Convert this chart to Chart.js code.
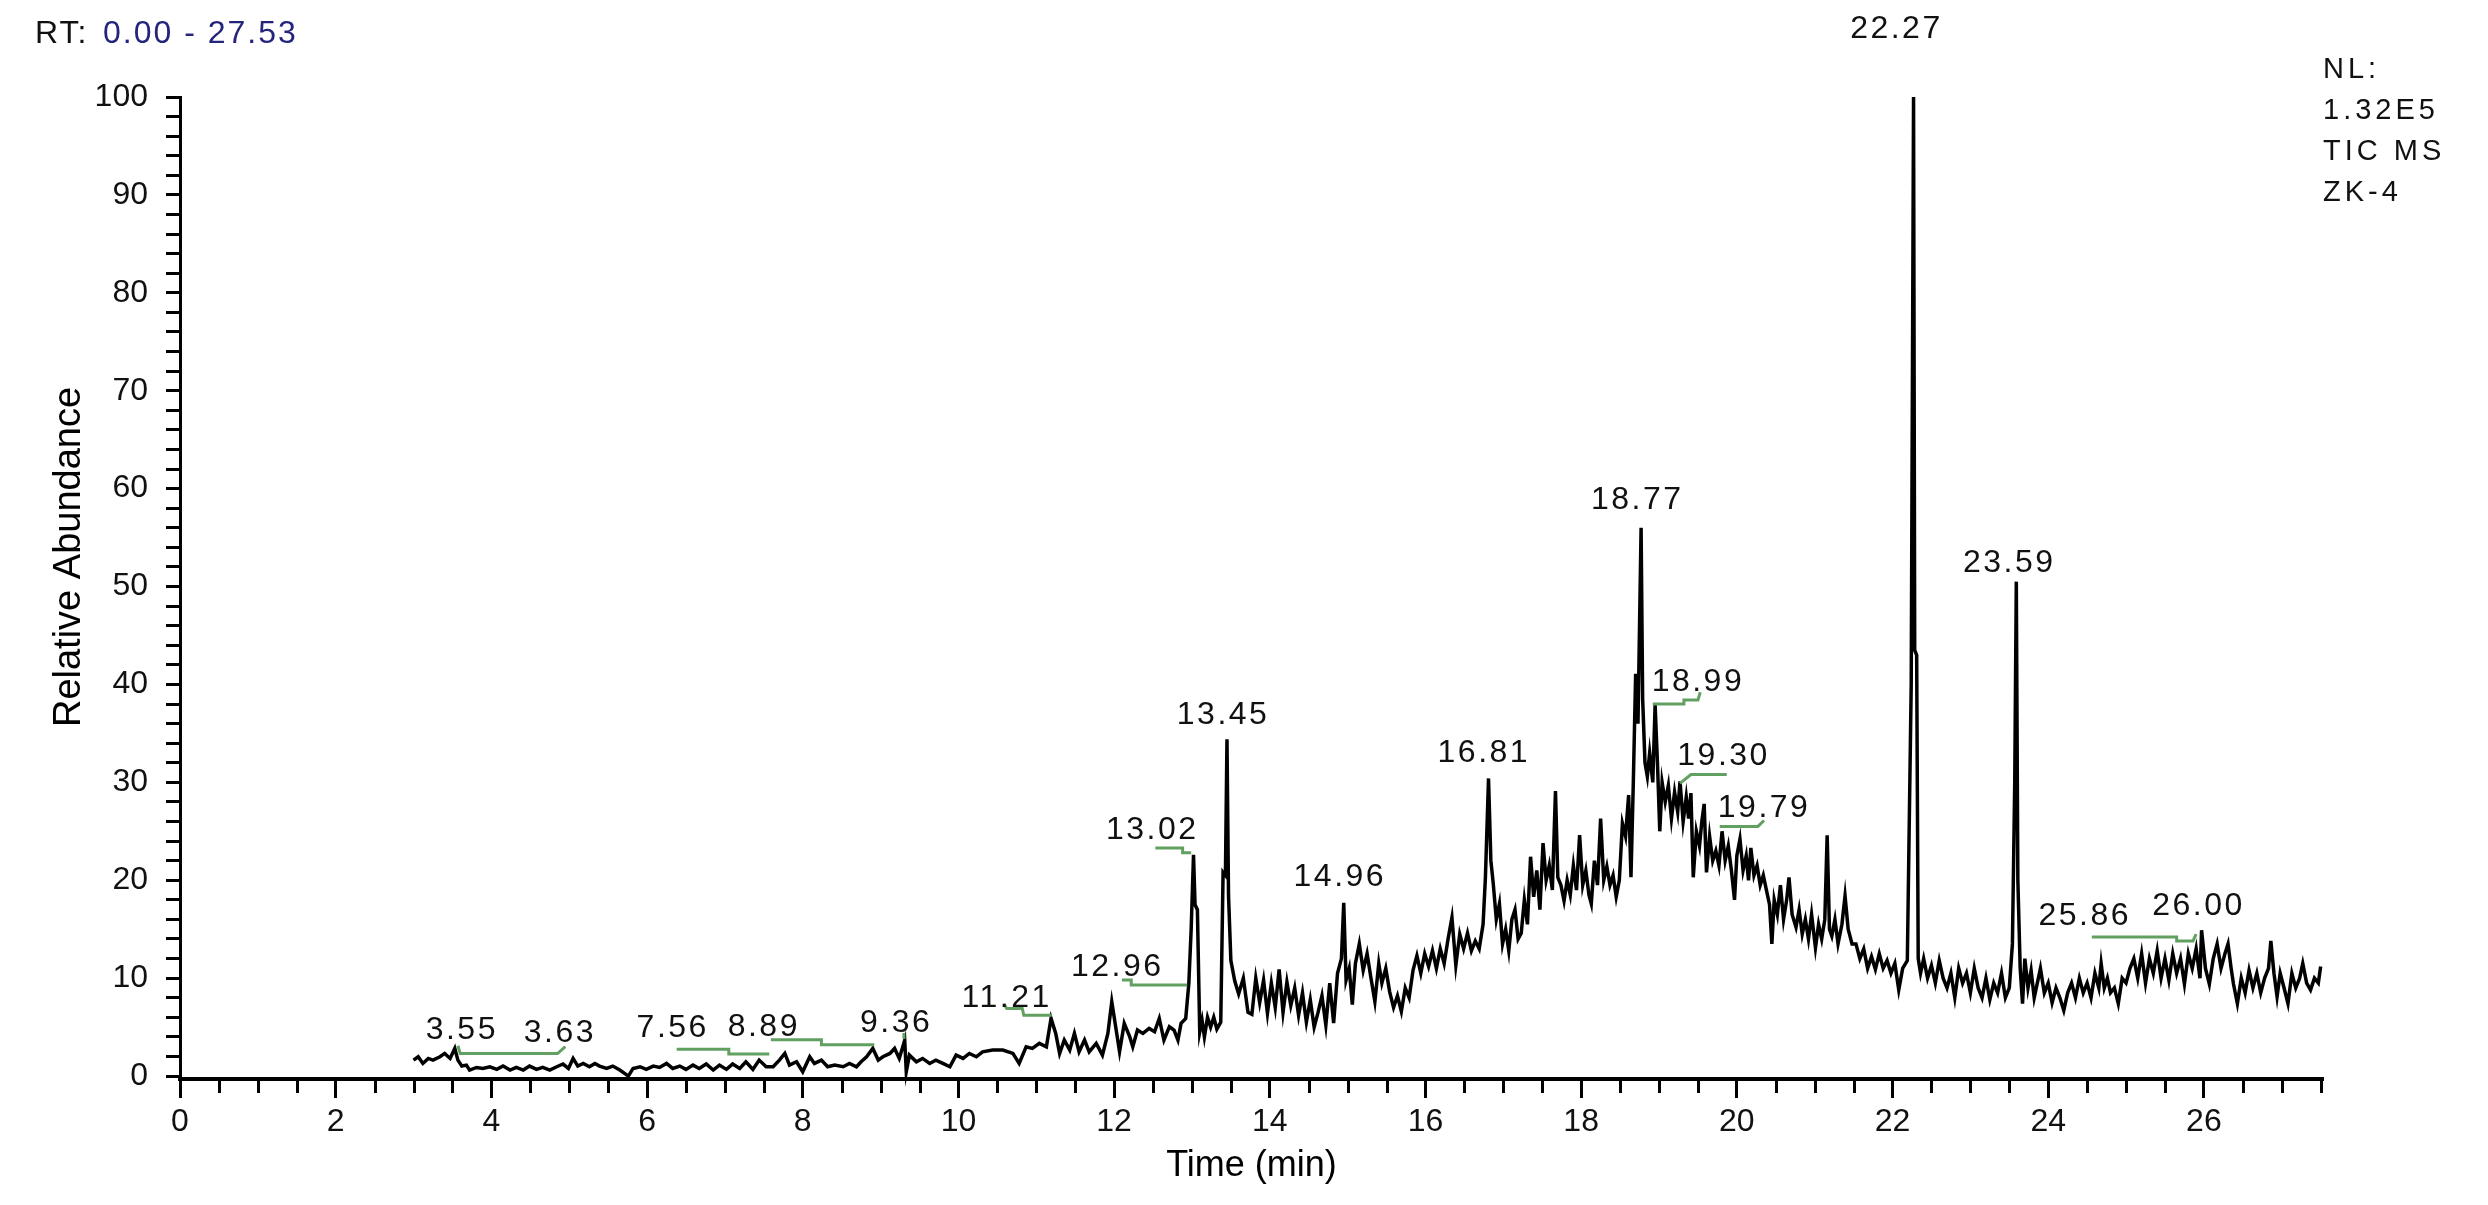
<!DOCTYPE html>
<html>
<head>
<meta charset="utf-8">
<title>TIC MS ZK-4</title>
<script src="https://cdn.jsdelivr.net/npm/chart.js@4.4.1/dist/chart.umd.min.js"></script>
<style>
  html, body { margin: 0; padding: 0; background: #fff; }
  canvas { display: block; }
</style>
</head>
<body>
<canvas id="tic" width="2488" height="1205"></canvas>
<script>
// retention time (min) and relative abundance (%)
const times = [
  3.00, 3.06, 3.12, 3.19, 3.25, 3.34, 3.40, 3.47, 3.53, 3.57, 3.62, 3.68, 3.72, 3.81, 3.89, 3.98,
  4.07, 4.15, 4.24, 4.32, 4.41, 4.49, 4.58, 4.66, 4.75, 4.84, 4.92, 4.99, 5.05, 5.11, 5.18, 5.26,
  5.33, 5.39, 5.48, 5.56, 5.65, 5.76, 5.82, 5.91, 5.99, 6.08, 6.16, 6.25, 6.33, 6.42, 6.50, 6.59,
  6.67, 6.76, 6.85, 6.93, 7.02, 7.10, 7.19, 7.27, 7.36, 7.44, 7.53, 7.62, 7.70, 7.77, 7.83, 7.92,
  8.00, 8.09, 8.15, 8.24, 8.32, 8.41, 8.52, 8.60, 8.69, 8.75, 8.82, 8.90, 8.97, 9.03, 9.12, 9.18,
  9.24, 9.31, 9.33, 9.37, 9.46, 9.54, 9.63, 9.71, 9.80, 9.89, 9.97, 10.06, 10.14, 10.23, 10.31, 10.44,
  10.57, 10.70, 10.78, 10.87, 10.95, 11.04, 11.13, 11.19, 11.25, 11.30, 11.36, 11.43, 11.49, 11.55, 11.62, 11.68,
  11.77, 11.85, 11.92, 11.97, 12.02, 12.07, 12.13, 12.20, 12.24, 12.30, 12.37, 12.45, 12.52, 12.58, 12.64, 12.71,
  12.77, 12.82, 12.86, 12.92, 12.96, 12.99, 13.02, 13.04, 13.07, 13.10, 13.13, 13.16, 13.20, 13.24, 13.28, 13.32,
  13.37, 13.40, 13.43, 13.45, 13.47, 13.50, 13.55, 13.60, 13.66, 13.72, 13.77, 13.82, 13.87, 13.92, 13.97, 14.02,
  14.07, 14.12, 14.17, 14.22, 14.27, 14.32, 14.37, 14.42, 14.47, 14.52, 14.57, 14.62, 14.67, 14.72, 14.77, 14.82,
  14.87, 14.92, 14.95, 14.98, 15.02, 15.06, 15.10, 15.15, 15.20, 15.25, 15.30, 15.35, 15.40, 15.44, 15.49, 15.54,
  15.59, 15.64, 15.69, 15.74, 15.79, 15.84, 15.89, 15.94, 15.99, 16.04, 16.09, 16.14, 16.19, 16.24, 16.29, 16.34,
  16.39, 16.44, 16.49, 16.54, 16.59, 16.64, 16.69, 16.74, 16.77, 16.81, 16.84, 16.87, 16.91, 16.95, 16.99, 17.03,
  17.07, 17.11, 17.15, 17.19, 17.23, 17.27, 17.31, 17.35, 17.39, 17.43, 17.47, 17.51, 17.55, 17.59, 17.63, 17.67,
  17.70, 17.74, 17.78, 17.82, 17.86, 17.90, 17.94, 17.98, 18.02, 18.06, 18.10, 18.13, 18.17, 18.21, 18.25, 18.29,
  18.33, 18.37, 18.41, 18.45, 18.49, 18.53, 18.57, 18.61, 18.64, 18.67, 18.70, 18.73, 18.77, 18.79, 18.82, 18.85,
  18.88, 18.92, 18.95, 18.98, 19.01, 19.04, 19.08, 19.12, 19.16, 19.20, 19.24, 19.27, 19.31, 19.35, 19.38, 19.41,
  19.44, 19.48, 19.52, 19.55, 19.58, 19.61, 19.65, 19.69, 19.73, 19.77, 19.81, 19.85, 19.89, 19.93, 19.97, 20.00,
  20.04, 20.08, 20.12, 20.15, 20.18, 20.22, 20.26, 20.30, 20.34, 20.38, 20.42, 20.45, 20.48, 20.52, 20.56, 20.60,
  20.64, 20.67, 20.71, 20.76, 20.80, 20.84, 20.88, 20.92, 20.96, 21.01, 21.05, 21.09, 21.13, 21.16, 21.19, 21.22,
  21.26, 21.30, 21.35, 21.39, 21.43, 21.48, 21.53, 21.58, 21.63, 21.68, 21.73, 21.78, 21.83, 21.88, 21.93, 21.98,
  22.03, 22.08, 22.13, 22.19, 22.24, 22.27, 22.285, 22.31, 22.33, 22.36, 22.40, 22.45, 22.50, 22.55, 22.60, 22.65,
  22.70, 22.75, 22.80, 22.85, 22.90, 22.95, 23.00, 23.05, 23.10, 23.15, 23.20, 23.25, 23.30, 23.35, 23.40, 23.45,
  23.50, 23.54, 23.57, 23.59, 23.61, 23.64, 23.67, 23.70, 23.74, 23.78, 23.82, 23.86, 23.90, 23.95, 24.00, 24.05,
  24.10, 24.15, 24.20, 24.25, 24.30, 24.35, 24.40, 24.45, 24.50, 24.55, 24.60, 24.65, 24.68, 24.72, 24.76, 24.80,
  24.85, 24.90, 24.95, 25.00, 25.05, 25.10, 25.15, 25.20, 25.25, 25.30, 25.35, 25.40, 25.45, 25.50, 25.55, 25.60,
  25.65, 25.70, 25.75, 25.80, 25.85, 25.90, 25.95, 25.97, 26.02, 26.07, 26.12, 26.17, 26.22, 26.27, 26.31, 26.35,
  26.38, 26.43, 26.48, 26.53, 26.58, 26.63, 26.68, 26.73, 26.78, 26.83, 26.86, 26.90, 26.94, 26.98, 27.03, 27.08,
  27.13, 27.18, 27.23, 27.27, 27.32, 27.37, 27.42, 27.47, 27.50
];
const abundance = [
  1.63, 1.97, 1.29, 1.80, 1.63, 1.97, 2.31, 1.80, 2.82, 1.63, 1.02, 1.12, 0.61, 0.88, 0.78, 0.95,
  0.68, 1.02, 0.61, 0.88, 0.61, 1.02, 0.68, 0.88, 0.61, 0.95, 1.23, 0.78, 1.80, 1.02, 1.29, 0.95,
  1.29, 1.02, 0.78, 1.02, 0.61, 0.00, 0.78, 0.95, 0.68, 1.02, 0.88, 1.29, 0.78, 1.02, 0.68, 1.12,
  0.78, 1.23, 0.61, 1.12, 0.68, 1.23, 0.78, 1.46, 0.68, 1.63, 0.95, 0.95, 1.63, 2.31, 1.12, 1.46,
  0.44, 1.97, 1.29, 1.63, 0.95, 1.12, 0.95, 1.29, 0.95, 1.46, 1.97, 2.82, 1.63, 1.97, 2.31, 2.82,
  1.80, 3.66, 0.44, 2.14, 1.46, 1.80, 1.29, 1.63, 1.29, 0.95, 2.14, 1.80, 2.31, 1.97, 2.48, 2.65,
  2.65, 2.31, 1.29, 2.99, 2.82, 3.34, 2.99, 5.89, 4.36, 2.31, 3.68, 2.65, 4.36, 2.48, 3.68, 2.48,
  3.34, 2.14, 4.36, 7.59, 5.04, 2.48, 5.38, 4.02, 2.99, 4.70, 4.36, 4.87, 4.53, 5.89, 3.68, 5.04,
  4.70, 3.68, 5.38, 5.89, 9.47, 15.0, 22.6, 17.5, 17.0, 4.5, 5.7, 4.0, 6.0, 5.0, 6.0, 4.8,
  5.5, 20.8, 20.5, 34.4, 18.4, 11.8, 9.7, 8.4, 10.0, 6.5, 6.3, 10.0, 7.5, 9.8, 6.4, 9.5,
  7.0, 10.9, 6.5, 9.6, 7.2, 9.0, 6.2, 8.5, 5.5, 7.8, 5.0, 6.5, 8.2, 5.2, 9.5, 5.4,
  10.5, 12.0, 17.7, 9.8, 11.0, 7.3, 11.5, 13.5, 10.8, 12.5, 10.0, 7.6, 11.5, 9.5, 11.0, 8.6,
  7.0, 8.2, 6.6, 9.0, 8.0, 10.8, 12.3, 10.5, 12.5, 11.2, 12.8, 11.0, 13.0, 11.5, 14.0, 16.2,
  11.3, 14.5, 13.0, 14.6, 12.8, 13.8, 13.0, 15.5, 20.3, 30.4, 22.0, 19.7, 16.0, 17.6, 13.5, 15.0,
  12.8, 16.0, 17.0, 14.0, 14.6, 18.0, 15.5, 22.4, 18.3, 21.0, 17.0, 23.8, 20.0, 21.5, 19.0, 29.1,
  20.3, 19.5, 17.9, 20.0, 18.5, 21.5, 19.0, 24.6, 19.5, 21.0, 18.5, 17.6, 22.0, 19.5, 26.3, 20.0,
  21.4, 19.5, 20.5, 18.3, 20.0, 25.8, 24.5, 28.7, 20.3, 30.0, 41.1, 36.0, 56.0, 38.5, 32.0, 30.6,
  33.0, 30.0, 37.9, 32.0, 25.0, 30.0, 28.0, 29.7, 26.3, 29.0, 27.0, 30.1, 26.0, 28.5, 26.3, 28.9,
  20.3, 25.0, 23.5, 26.0, 27.8, 20.8, 24.5, 22.0, 23.0, 21.5, 25.0, 22.0, 23.5, 21.0, 18.0, 22.5,
  24.2, 21.0, 22.5, 20.0, 23.3, 20.5, 21.5, 19.5, 20.5, 19.0, 17.5, 13.5, 18.0, 16.5, 19.5, 16.0,
  18.0, 20.3, 16.5, 15.2, 17.0, 14.5, 16.0, 14.0, 16.5, 13.1, 15.5, 14.0, 16.0, 24.6, 15.0, 14.3,
  16.0, 13.5, 15.5, 18.4, 15.0, 13.5, 13.5, 12.0, 13.0, 11.0, 12.2, 10.9, 12.5, 11.0, 11.8, 10.5,
  11.5, 8.8, 11.0, 11.8, 40.0, 100, 43.5, 43.0, 12.0, 10.5, 12.0, 10.0, 11.3, 9.5, 11.8, 10.0,
  9.0, 10.5, 8.0, 11.0, 9.5, 10.5, 8.5, 11.0, 9.0, 8.0, 10.0, 7.8, 9.5, 8.5, 10.5, 8.0,
  9.0, 13.5, 30.0, 50.5, 20.0, 11.0, 7.4, 12.0, 9.0, 10.8, 8.0, 9.5, 11.0, 8.5, 9.5, 7.5,
  9.0, 8.0, 6.7, 8.5, 9.5, 8.0, 10.0, 8.5, 9.5, 8.0, 10.5, 9.0, 11.5, 9.0, 10.0, 8.5,
  9.0, 7.4, 10.0, 9.5, 11.0, 12.0, 10.0, 12.5, 9.5, 12.0, 10.5, 12.8, 10.0, 12.0, 9.8, 12.5,
  10.5, 12.0, 9.4, 12.5, 11.0, 13.0, 10.0, 14.9, 11.0, 9.4, 12.0, 13.5, 11.0, 12.5, 13.5, 11.0,
  9.4, 7.4, 10.0, 8.5, 10.8, 9.0, 10.5, 8.5, 10.0, 11.0, 13.8, 10.5, 8.1, 10.5, 9.0, 7.4,
  10.5, 9.0, 10.0, 11.5, 9.5, 8.8, 10.0, 9.5, 11.2
];

// peak labels: text, and where the text sits (time, abundance)
const peakNames = ["3.55", "3.63", "7.56", "8.89", "9.36", "11.21", "12.96", "13.02", "13.45", "14.96",
  "16.81", "18.77", "18.99", "19.30", "19.79", "22.27", "23.59", "25.86", "26.00"];
const peakLabelTimes = [3.62, 4.88, 6.33, 7.50, 9.20, 10.62, 12.04, 12.49, 13.40, 14.90,
  16.75, 18.72, 19.50, 19.83, 20.35, 22.05, 23.50, 24.47, 25.93];
const peakLabelLevels = [4.7, 4.4, 4.9, 5.0, 5.4, 8.0, 11.1, 25.1, 36.9, 20.3,
  33.0, 58.8, 40.2, 32.7, 27.4, 106.9, 52.4, 16.3, 17.4];

// green label flags, [time, abundance] corners
const flagLines = [
  [[3.57, 3.1], [3.60, 2.3], [4.85, 2.3], [4.95, 3.0]],
  [[6.38, 2.75], [7.05, 2.75], [7.05, 2.25], [7.57, 2.25]],
  [[7.59, 3.7], [8.24, 3.7], [8.24, 3.2], [8.92, 3.2]],
  [[9.30, 4.4], [9.30, 3.8]],
  [[10.59, 7.3], [10.62, 6.9], [10.82, 6.9], [10.84, 6.2], [11.20, 6.2]],
  [[12.10, 9.8], [12.22, 9.8], [12.22, 9.3], [12.94, 9.3]],
  [[12.53, 23.3], [12.88, 23.3], [12.88, 22.8], [12.99, 22.8]],
  [[18.92, 38.0], [19.32, 38.0], [19.32, 38.4], [19.50, 38.4], [19.53, 39.2]],
  [[19.27, 29.9], [19.41, 30.8], [19.87, 30.8]],
  [[19.78, 25.5], [20.27, 25.5], [20.35, 26.1]],
  [[24.56, 14.2], [25.65, 14.2], [25.65, 13.8], [25.86, 13.8], [25.90, 14.5]]
];

const rtRange = [0.00, 27.53];
const infoLines = ["NL:", "1.32E5", "TIC MS", "ZK-4"];

const FONT = "'Liberation Sans', Arial, sans-serif";
Chart.defaults.font.family = FONT;
Chart.defaults.color = "#111";

function isMajor(value, step) {
  return Math.abs(value / step - Math.round(value / step)) < 1e-6;
}

// short ticks every 0.5 min, long ones at the labelled minutes
const minorTicks = {
  id: "minorTicks",
  afterDraw(chart) {
    const { ctx } = chart;
    const x = chart.scales.x;
    ctx.save();
    ctx.strokeStyle = "#000";
    ctx.lineWidth = 3;
    x.ticks.forEach((tick) => {
      if (isMajor(tick.value, 2)) return;
      const px = Math.round(x.getPixelForValue(tick.value)) + 0.5;
      ctx.beginPath();
      ctx.moveTo(px, x.top);
      ctx.lineTo(px, x.top + 14);
      ctx.stroke();
    });
    ctx.restore();
  },
};

const peakLabels = {
  id: "peakLabels",
  afterDatasetsDraw(chart) {
    const { ctx } = chart;
    const { x, y } = chart.scales;
    ctx.save();
    ctx.strokeStyle = "#62a062";
    ctx.lineWidth = 3;
    flagLines.forEach((pts) => {
      ctx.beginPath();
      pts.forEach(([t, v], i) => {
        const px = x.getPixelForValue(t);
        const py = y.getPixelForValue(v);
        if (i === 0) ctx.moveTo(px, py);
        else ctx.lineTo(px, py);
      });
      ctx.stroke();
    });
    ctx.font = "32px " + FONT;
    ctx.letterSpacing = "2.5px";
    ctx.fillStyle = "#111";
    ctx.textAlign = "center";
    ctx.textBaseline = "middle";
    peakNames.forEach((name, i) => {
      ctx.fillText(name, x.getPixelForValue(peakLabelTimes[i]), y.getPixelForValue(peakLabelLevels[i]));
    });
    ctx.restore();
  },
};

const header = {
  id: "header",
  afterDraw(chart) {
    const { ctx, chartArea } = chart;
    ctx.save();
    ctx.textAlign = "left";
    ctx.textBaseline = "middle";
    ctx.font = "32px " + FONT;
    ctx.letterSpacing = "2px";
    ctx.fillStyle = "#111";
    ctx.fillText("RT:", 35, 34);
    ctx.fillStyle = "#24247c";
    ctx.fillText(rtRange[0].toFixed(2) + " - " + rtRange[1].toFixed(2), 103, 34);
    ctx.font = "29px " + FONT;
    ctx.letterSpacing = "4px";
    ctx.fillStyle = "#111";
    infoLines.forEach((line, i) => {
      ctx.fillText(line, chartArea.right, 70 + i * 41);
    });
    // y axis title, centred a little above the plot middle as in the original
    ctx.letterSpacing = "0px";
    ctx.font = "38px " + FONT;
    ctx.fillStyle = "#000";
    ctx.textAlign = "center";
    ctx.translate(70, 557);
    ctx.rotate(-Math.PI / 2);
    ctx.fillText("Relative Abundance", 0, 0);
    ctx.restore();
  },
};

new Chart(document.getElementById("tic").getContext("2d"), {
  type: "line",
  data: {
    datasets: [
      {
        label: "TIC MS ZK-4",
        data: times.map((t, i) => ({ x: t, y: abundance[i] })),
        borderColor: "#000",
        borderWidth: 3.5,
        pointRadius: 0,
        tension: 0,
        fill: false,
        clip: false,
      },
    ],
  },
  options: {
    responsive: false,
    animation: false,
    devicePixelRatio: 1,
    layout: { padding: { left: 0, top: 97, right: 165, bottom: 0 } },
    plugins: {
      legend: { display: false },
      tooltip: { enabled: false },
    },
    scales: {
      x: {
        type: "linear",
        min: 0,
        max: 27.53,
        afterFit: (scale) => { scale.height = 126; },
        border: { display: true, color: "#000", width: 4 },
        grid: {
          drawOnChartArea: false,
          tickLength: 19,
          tickWidth: 3,
          tickColor: (c) => (c.tick && isMajor(c.tick.value, 2) ? "#000" : "rgba(0,0,0,0)"),
        },
        ticks: {
          stepSize: 0.5,
          includeBounds: false,
          autoSkip: false,
          maxRotation: 0,
          padding: 5,
          font: { size: 32 },
          color: "#111",
          callback: (v) => (isMajor(v, 2) ? String(v) : ""),
        },
        title: {
          display: true,
          text: "Time (min)",
          font: { size: 36 },
          color: "#000",
          padding: { top: 0, bottom: 17 },
        },
      },
      y: {
        type: "linear",
        min: -0.3,
        max: 100,
        afterFit: (scale) => { scale.width = 180; },
        border: { display: true, color: "#000", width: 3 },
        grid: {
          drawOnChartArea: false,
          tickLength: 14,
          tickWidth: 3,
          tickColor: "#000",
        },
        ticks: {
          stepSize: 2,
          includeBounds: false,
          autoSkip: false,
          padding: 18,
          font: { size: 32 },
          color: "#111",
          callback: (v) => (isMajor(v, 10) ? String(v) : ""),
        },
        title: { display: false },
      },
    },
  },
  plugins: [minorTicks, peakLabels, header],
});
</script>
</body>
</html>
